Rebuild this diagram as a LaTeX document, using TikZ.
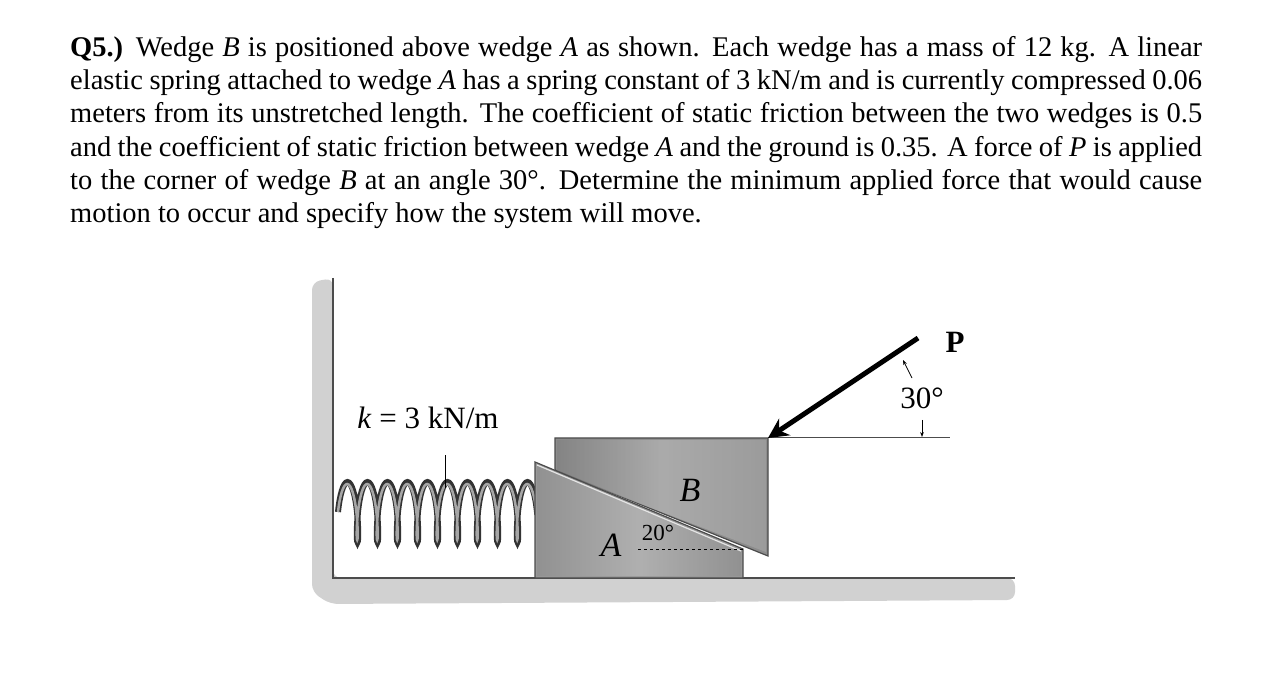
\documentclass[tikz,border=0pt]{standalone}
\usepackage{fontspec}
\setmainfont{Liberation Serif}
\usetikzlibrary{arrows.meta,decorations.pathmorphing}
\begin{document}
\begin{tikzpicture}[x=1pt,y=-1pt,
  txt/.style={inner sep=0pt,font=\fontsize{28.5}{33.3}\selectfont},
  lbl/.style={inner sep=0pt,font=\fontsize{31}{34}\selectfont},
  edge/.style={draw=black!70,line width=1.2pt}]
\useasboundingbox (0,0) rectangle (1288,700);
\node[txt,anchor=north west,text width=1132pt,align=justify] (q) at (70,36)
{\textbf{Q5.)} Wedge \textit{B} is positioned above wedge \textit{A} as shown. Each wedge has a mass of 12 kg. A linear elastic spring attached to wedge \textit{A} has a spring constant of 3 kN/m and is currently compressed 0.06 meters from its unstretched length. The coefficient of static friction between the two wedges is 0.5 and the coefficient of static friction between wedge \textit{A} and the ground is 0.35. A force of \textit{P} is applied to the corner of wedge \textit{B} at an angle 30°. Determine the minimum applied force that would cause motion to occur and specify how the system will move.};
% shadows
\fill[black!18,rounded corners=8pt] (312,282) -- (333,278) -- (333,578) -- (1015,578) -- (1015,600) -- (330,604) -- (312,592) -- cycle;
% wall and floor
\draw[black!70,line width=2pt] (333,278) -- (333,578) -- (1015,578);
% spring
\draw[black!80,line width=6pt,decorate,decoration={coil,segment length=20pt,amplitude=30pt,aspect=0.15}] (338,512) -- (537,512);
\draw[black!35,line width=2.5pt,decorate,decoration={coil,segment length=20pt,amplitude=28pt,aspect=0.15}] (338,512) -- (537,512);
% wedge B
\path[fill=black!45,edge] (555,438) -- (768,438) -- (768,556) -- (555,470) -- cycle;
\shade[left color=black!50,right color=black!35,middle color=black!25,opacity=0.6] (557,440) -- (766,440) -- (766,552) -- (557,472) -- cycle;
% wedge A
\path[fill=black!40,edge] (535,578) -- (535,462) -- (743,549) -- (743,578) -- cycle;
\shade[left color=black!45,right color=black!45,middle color=black!25,opacity=0.6] (537,576) -- (537,465) -- (741,551) -- (741,576) -- cycle;
\draw[black!10,line width=1.2pt] (537,465) -- (741,551);
\draw[dashed,line width=0.9pt] (638,549) -- (743,549);
\node[inner sep=0pt,font=\fontsize{23}{26}\selectfont] (ang) at (658,533) {20°};
\node[lbl,font=\fontsize{34}{36}\selectfont] (a) at (611,545) {\textit{A}};
\node[lbl,font=\fontsize{34}{36}\selectfont] (b) at (690,490) {\textit{B}};
% k label
\coordinate (k1) at (445,455);
\coordinate (k2) at (445,488);
\draw[line width=0.8pt] (k1) -- (k2);
\node[lbl] (k) at (428,418) {\textit{k} = 3 kN/m};
% force
\coordinate (c) at (768,438);
\coordinate (pt) at (918,338);
\draw[black!70,line width=1pt] (c) -- (950,438);
\draw[line width=5pt,-{Stealth[length=20pt,width=20pt]}] (pt) -- (c);
\node[inner sep=0pt,font=\fontsize{31}{34}\selectfont\bfseries] (p) at (955,342) {P};
\node[lbl] (ang2) at (922,398) {30°};
\draw[line width=0.8pt,-{Stealth[length=5pt]}] (922,420) -- (922,437);
\draw[line width=0.8pt,-{Stealth[length=5pt]}] (912,378) -- (903,360);
\end{tikzpicture}
\end{document}
